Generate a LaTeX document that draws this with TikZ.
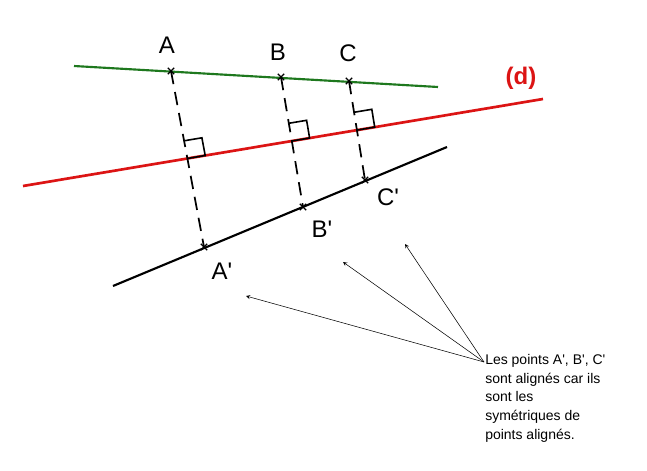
\documentclass[tikz,border=0pt]{standalone}
\usepackage{fontspec}
\setmainfont{Liberation Sans}[Ligatures=TeXOff]
\usetikzlibrary{shapes.misc}
\definecolor{dgreen}{RGB}{30,120,30}
\definecolor{dred}{RGB}{220,20,20}
\begin{document}
\begin{tikzpicture}[x=0.75pt,y=-0.75pt,
  pt/.style={cross out,draw,thick,minimum size=4pt,inner sep=0pt},
  lbl/.style={font=\fontsize{18}{20}\selectfont},
  dsh/.style={line width=1.3pt,dash pattern=on 10pt off 6pt},
  ra/.style={line width=1.2pt},
  arr/.style={->,>=stealth,thin}]
\useasboundingbox (0,0) rectangle (647,471);
\fill[white] (0,0) rectangle (647,471);
% lines
\draw[dgreen,line width=1.6pt] (74,66) coordinate (g1) -- (438,87) coordinate (g2);
\draw[dred,line width=2pt] (23,186) coordinate (r1) -- (543,99) coordinate (r2);
\draw[black,line width=1.6pt] (113,286) coordinate (k1) -- (447,147) coordinate (k2);
% points
\coordinate (A) at (171,71); \coordinate (B) at (281,77); \coordinate (C) at (349,81);
\coordinate (A') at (204,247); \coordinate (B') at (303,207); \coordinate (C') at (365,180);
\draw[dsh] (A) -- (A'); \draw[dsh] (B) -- (B'); \draw[dsh] (C) -- (C');
\foreach \p in {A,B,C,A',B',C'} \node[pt] at (\p) {};
% right angles
\draw[ra] (187.4,158.5) -- (205.2,155.5) -- (201.9,137.8) -- (184.1,140.8);
\draw[ra] (291.8,141.0) -- (309.6,138.0) -- (306.6,120.3) -- (288.8,123.3);
\draw[ra] (356.9,130.1) -- (374.7,127.1) -- (371.8,109.3) -- (354.0,112.3);
% labels
\node[lbl] (lA) at (167,45) {A};
\node[lbl] (lB) at (278,52) {B};
\node[lbl] (lC) at (348,53) {C};
\node[lbl] (lA2) at (222,271) {A'};
\node[lbl] (lB2) at (322,229) {B'};
\node[lbl] (lC2) at (388,197) {C'};
\node[lbl,dred,font=\fontsize{18}{20}\selectfont\bfseries] (d) at (521,78) {(d)};
% text
\node[anchor=north west,align=left,inner sep=0pt,font=\fontsize{10.5}{14}\selectfont] (t) at (485,354)
 {Les points A', B', C'\\sont alignés car ils\\sont les\\symétriques de\\points alignés.};
\coordinate (o) at (484,362);
\draw[arr] (o) -- (246,296);
\draw[arr] (o) -- (343,262);
\draw[arr] (o) -- (405,244);
\end{tikzpicture}
\end{document}
